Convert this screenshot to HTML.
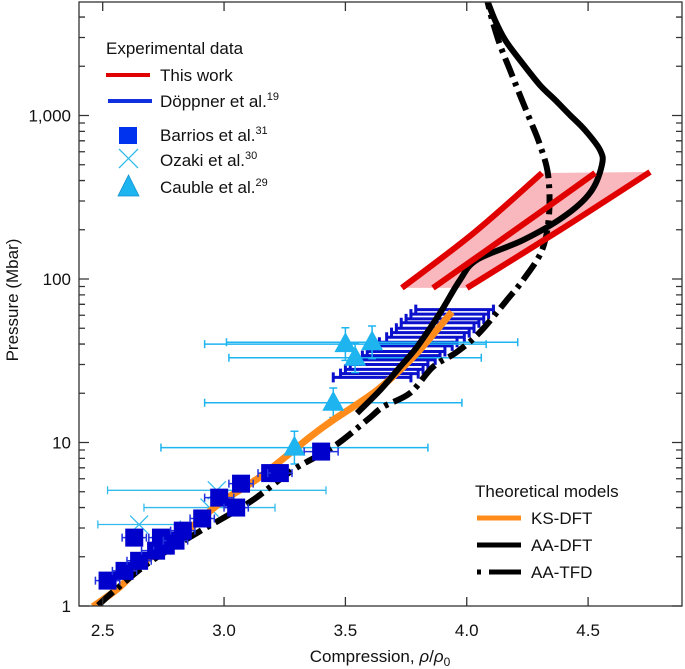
<!DOCTYPE html>
<html><head><meta charset="utf-8"><style>
html,body{margin:0;padding:0;background:#fff;}
svg{display:block;font-family:"Liberation Sans",Arial,sans-serif;}
</style></head><body>
<svg id="chart" width="685" height="669" viewBox="0 0 685 669" xmlns="http://www.w3.org/2000/svg">
<defs><clipPath id="clip"><rect x="79" y="2" width="603" height="604"/></clipPath></defs>
<g id="fill-layer" clip-path="url(#clip)"></g>
<g id="data-layer" clip-path="url(#clip)"></g>
<g id="axes-layer"></g>
<text transform="translate(18,300) rotate(-90)" text-anchor="middle" font-size="17" fill="#111">Pressure (Mbar)</text>
<text x="380" y="662" text-anchor="middle" font-size="17" fill="#111">Compression, <tspan font-style="italic">ρ</tspan>/<tspan font-style="italic">ρ</tspan><tspan font-size="12" dy="4">0</tspan></text>
<g font-size="17" fill="#111">
<text x="106" y="54">Experimental data</text>
<line x1="106" y1="75" x2="150" y2="75" stroke="#e00000" stroke-width="4"/>
<text x="160" y="81">This work</text>
<line x1="108" y1="101" x2="152" y2="101" stroke="#1030e0" stroke-width="4"/>
<text x="160" y="107">Döppner et al.<tspan font-size="11" dy="-7">19</tspan></text>
<rect x="119" y="127" width="18" height="17" fill="#0033ee"/>
<text x="160" y="141">Barrios et al.<tspan font-size="11" dy="-7">31</tspan></text>
<path d="M119,149 L138,168 M138,149 L119,168" stroke="#33bbee" stroke-width="1.3"/>
<text x="160" y="166">Ozaki et al.<tspan font-size="11" dy="-7">30</tspan></text>
<path d="M118,196 L139,196 L128.5,175 Z" fill="#1eb4f0" stroke="#1090d0" stroke-width="0.8"/>
<text x="160" y="193">Cauble et al.<tspan font-size="11" dy="-7">29</tspan></text>
</g>
<g font-size="17" fill="#111">
<text x="475" y="497">Theoretical models</text>
<line x1="477" y1="518" x2="521" y2="518" stroke="#ff8c1a" stroke-width="5"/>
<text x="531" y="524">KS-DFT</text>
<line x1="477" y1="545" x2="521" y2="545" stroke="#000" stroke-width="5"/>
<text x="531" y="551">AA-DFT</text>
<path d="M477,572 L481,572 M489,572 L521,572" stroke="#000" stroke-width="5"/>
<text x="531" y="578">AA-TFD</text>
</g>
</svg>
<script>
// ---- data ----
const xTicks = [2.5, 3.0, 3.5, 4.0, 4.5];
const xTickLabels = ["2.5", "3.0", "3.5", "4.0", "4.5"];
const yTicks = [1, 10, 100, 1000];
const yTickLabels = ["1", "10", "100", "1,000"];
const ksDftX = [2.46, 2.571, 2.683, 2.818, 2.983, 3.148, 3.354, 3.449, 3.630, 3.779, 3.939];
const ksDftP = [0.99, 1.31, 1.91, 2.64, 4.26, 6.16, 10.8, 13.7, 20.9, 33.3, 62.9];
const aaDftX = [3.548, 3.643, 3.725, 3.795, 3.890, 3.972, 4.042, 4.232, 4.397, 4.508, 4.557, 4.549, 4.487, 4.425, 4.364, 4.301, 4.219, 4.158, 4.116, 4.084];
const aaDftP = [15.1, 20.9, 29, 38.4, 62, 98.6, 131, 173, 239, 336, 498, 615, 815, 1007, 1245, 1537, 2185, 2900, 3840, 5080];
const aaTfdX = [2.481, 2.543, 2.695, 2.889, 2.983, 3.119, 3.284, 3.449, 3.589, 3.655, 3.767, 3.861, 3.960, 4.055, 4.166, 4.232, 4.310, 4.339, 4.335, 4.302, 4.261, 4.219, 4.178, 4.137, 4.105, 4.084];
const aaTfdP = [1.01, 1.22, 1.86, 2.8, 3.36, 4.45, 6.79, 9.38, 13.7, 16.5, 20.1, 29, 35.8, 47.4, 74.5, 98.6, 150, 246, 433, 660, 938, 1335, 1897, 2700, 3840, 5080];
const workLeftX = [3.733, 4.034, 4.310];
const workLeftP = [88.2, 194, 445];
const workMidX = [3.861, 4.199, 4.529];
const workMidP = [88.2, 199, 445];
const workRightX = [4.001, 4.384, 4.755];
const workRightP = [88.2, 199, 451];
const doppnerX = [3.95, 3.93, 3.91, 3.89, 3.87, 3.85, 3.83, 3.80, 3.78, 3.75, 3.73, 3.71, 3.68, 3.66, 3.64, 3.61];
const doppnerP = [65, 61, 57, 54, 50, 47, 44, 41, 39, 36, 34, 32, 30, 28, 26.4, 25];
const doppnerXErr = [0.16, 0.16, 0.16, 0.16, 0.16, 0.16, 0.16, 0.16, 0.16, 0.16, 0.16, 0.16, 0.16, 0.16, 0.16, 0.16];
const barriosX = [2.52, 2.59, 2.65, 2.72, 2.76, 2.63, 2.74, 2.80, 2.83, 2.91, 2.98, 3.05, 3.07, 3.19, 3.23, 3.40];
const barriosP = [1.43, 1.64, 1.89, 2.18, 2.34, 2.62, 2.62, 2.51, 2.89, 3.43, 4.6, 4.0, 5.6, 6.5, 6.5, 8.8];
const barriosXErr = [0.05, 0.05, 0.05, 0.06, 0.05, 0.05, 0.05, 0.05, 0.05, 0.05, 0.06, 0.05, 0.05, 0.05, 0.05, 0.07];
const ozakiX = [2.65, 2.94, 2.97];
const ozakiP = [3.15, 4.0, 5.1];
const ozakiXErr = [0.17, 0.27, 0.45];
const caubleX = [3.29, 3.45, 3.50, 3.54, 3.61];
const caubleP = [9.3, 17.5, 40, 33, 41];
const caubleXErr = [0.55, 0.53, 0.58, 0.52, 0.60];
const caublePErr = [0.1, 0.09, 0.1, 0.09, 0.1];

// ---- scales ----
const X0 = 79, X1 = 682, Y0 = 606, Y1 = 2;
function xs(v) { return 102.7 + (v - 2.5) * 242.7; }
function ys(p) { return 606 - 163.5 * Math.log10(p); }
const NS = "http://www.w3.org/2000/svg";
const data = document.getElementById('data-layer');
const fillL = document.getElementById('fill-layer');
const axes = document.getElementById('axes-layer');
function mk(tag, parent, attrs) {
  const e = document.createElementNS(NS, tag);
  for (const k in attrs) e.setAttribute(k, attrs[k]);
  parent.appendChild(e); return e;
}
function pts(xa, pa) { return xa.map((v, i) => [xs(v), ys(pa[i])]); }
function smooth(p) {
  if (p.length < 3) return 'M' + p.map(q => q.join(',')).join(' L');
  let d = `M${p[0][0].toFixed(1)},${p[0][1].toFixed(1)}`;
  for (let i = 0; i < p.length - 1; i++) {
    const p0 = p[Math.max(0, i - 1)], p1 = p[i], p2 = p[i + 1], p3 = p[Math.min(p.length - 1, i + 2)];
    const c1 = [p1[0] + (p2[0] - p0[0]) / 6, p1[1] + (p2[1] - p0[1]) / 6];
    const c2 = [p2[0] - (p3[0] - p1[0]) / 6, p2[1] - (p3[1] - p1[1]) / 6];
    d += ` C${c1[0].toFixed(1)},${c1[1].toFixed(1)} ${c2[0].toFixed(1)},${c2[1].toFixed(1)} ${p2[0].toFixed(1)},${p2[1].toFixed(1)}`;
  }
  return d;
}

// this work fill
const poly = [];
for (let i = 0; i < workLeftX.length; i++) poly.push(xs(workLeftX[i]) + ',' + ys(workLeftP[i]));
for (let i = workRightX.length - 1; i >= 0; i--) poly.push(xs(workRightX[i]) + ',' + ys(workRightP[i]));
const band = mk('polygon', fillL, { points: poly.join(' '), fill: '#f9b8bd' });



// Doppner bars
doppnerX.forEach((v, i) => {
  const y = ys(doppnerP[i]), xa = xs(v - doppnerXErr[i]), xb = xs(v + doppnerXErr[i]);
  const g = mk('path', data, { d: `M${xa},${y} L${xb},${y} M${xa},${y - 5} L${xa},${y + 5} M${xb},${y - 5} L${xb},${y + 5}`, stroke: '#0a10cc', 'stroke-width': 3, fill: 'none' });
  
  
});

// Cauble error bars
caubleX.forEach((v, i) => {
  const y = ys(caubleP[i]), x = xs(v), xa = xs(v - caubleXErr[i]), xb = xs(v + caubleXErr[i]);
  const ya = ys(caubleP[i] * Math.pow(10, caublePErr[i])), yb = ys(caubleP[i] / Math.pow(10, caublePErr[i]));
  const g = mk('path', data, { d: `M${xa},${y} L${xb},${y} M${xa},${y - 4} L${xa},${y + 4} M${xb},${y - 4} L${xb},${y + 4} M${x},${ya} L${x},${yb} M${x - 4},${ya} L${x + 4},${ya} M${x - 4},${yb} L${x + 4},${yb}`, stroke: '#1eb4f0', 'stroke-width': 1.5, fill: 'none' });
  
  
});
// Ozaki
ozakiX.forEach((v, i) => {
  const y = ys(ozakiP[i]), x = xs(v), xa = xs(v - ozakiXErr[i]), xb = xs(v + ozakiXErr[i]);
  const g = mk('path', data, { d: `M${xa},${y} L${xb},${y} M${xa},${y - 4} L${xa},${y + 4} M${xb},${y - 4} L${xb},${y + 4} M${x - 9},${y - 9} L${x + 9},${y + 9} M${x + 9},${y - 9} L${x - 9},${y + 9}`, stroke: '#33bbee', 'stroke-width': 1.3, fill: 'none' });
  
  
});

// theory curves
const ks = mk('path', data, { d: smooth(pts(ksDftX, ksDftP)), stroke: '#ff8c1a', 'stroke-width': 7, fill: 'none', 'stroke-linejoin': 'round' });


const tfd = mk('path', data, { d: smooth(pts(aaTfdX, aaTfdP)), stroke: '#000', 'stroke-width': 6, fill: 'none', 'stroke-dasharray': '20 6 4 6' });


const dft = mk('path', data, { d: smooth(pts(aaDftX, aaDftP)), stroke: '#000', 'stroke-width': 6, fill: 'none', 'stroke-linejoin': 'round' });



// this work lines
[[workLeftX, workLeftP, 'this-work-lower'], [workMidX, workMidP, 'this-work-middle'], [workRightX, workRightP, 'this-work-upper']].forEach(s => {
  const l = mk('path', data, { d: smooth(pts(s[0], s[1])), stroke: '#e00000', 'stroke-width': 6, fill: 'none' });
  
  
});

// Barrios
barriosX.forEach((v, i) => {
  const y = ys(barriosP[i]), x = xs(v), xa = xs(v - barriosXErr[i]), xb = xs(v + barriosXErr[i]);
  const e = mk('path', data, { d: `M${xa},${y} L${xb},${y} M${xa},${y - 4} L${xa},${y + 4} M${xb},${y - 4} L${xb},${y + 4}`, stroke: '#2233dd', 'stroke-width': 1.5, fill: 'none' });
  
  
  const r = mk('rect', data, { x: x - 9, y: y - 9, width: 18, height: 18, fill: '#0000cc' });
  
  
});
// Cauble triangles
caubleX.forEach((v, i) => {
  const y = ys(caubleP[i]), x = xs(v);
  const t = mk('path', data, { d: `M${x - 11},${y + 8} L${x + 11},${y + 8} L${x},${y - 12} Z`, fill: '#1eb4f0' });
  
  
});

// axes
const frame = mk('rect', axes, { x: X0, y: Y1, width: X1 - X0, height: Y0 - Y1, fill: 'none', stroke: '#333', 'stroke-width': 1.3 });


xTicks.forEach((v, i) => {
  const x = xs(v);
  mk('path', axes, { d: `M${x},${Y0} L${x},${Y0 - 9} M${x},${Y1} L${x},${Y1 + 9}`, stroke: '#333', 'stroke-width': 1.3 });
  const t = mk('text', axes, { x: x, y: 636, 'text-anchor': 'middle', 'font-size': 17, fill: '#111' });
  t.textContent = xTickLabels[i];
  
  
});
for (let d = 0; d < 4; d++) {
  for (let m = 1; m <= 9; m++) {
    const p = Math.pow(10, d) * m;
    const y = ys(p);
    if (y < Y1) continue;
    const len = m === 1 ? 10 : 6;
    mk('path', axes, { d: `M${X0},${y} L${X0 + len},${y} M${X1},${y} L${X1 - len},${y}`, stroke: '#333', 'stroke-width': 1.3 });
  }
}
yTicks.forEach((v, i) => {
  const t = mk('text', axes, { x: 71, y: ys(v) + 6, 'text-anchor': 'end', 'font-size': 17, fill: '#111' });
  t.textContent = yTickLabels[i];
  
  
});
</script>
</body></html>
